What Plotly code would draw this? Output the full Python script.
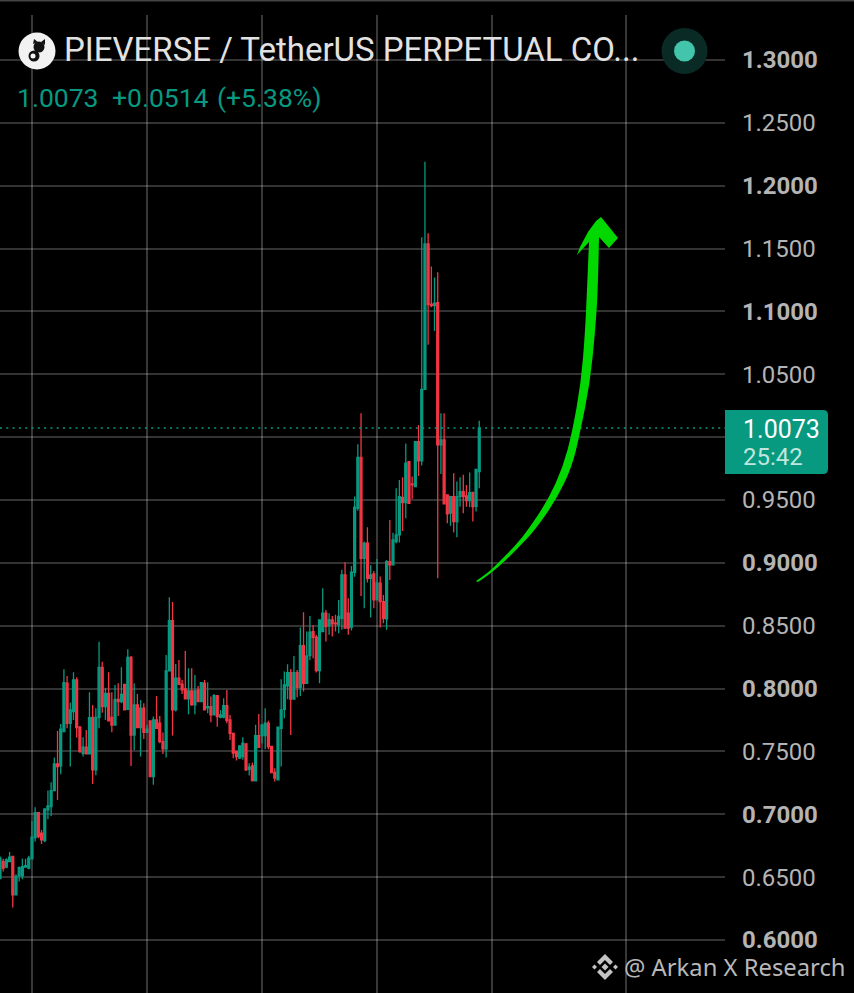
import plotly.graph_objects as go

# PIEVERSE / USDT perp (candle index = hours)
opens = [.649, .6623, .6579, .6624, .6664, .6359, .651, .651, .6579, .6571, .6645, .6815, .7013, .6849, .6791, .7035, .7061, .7188, .74, .7384,
         .7657, .8042, .7724, .7816, .8068, .7692, .7485, .7533, .748, .7771, .7353, .7771, .8169, .7856, .7962, .7771, .771, .7914, .7896, .8033,
         .7835, .8248, .763, .7869, .7689, .7843, .7652, .7743, .73, .775, .7724, .7578, .752, .814, .854, .783, .8082, .8034, .7997, .7917,
         .7981, .787, .7989, .7896, .8042, .7846, .7856, .779, .7944, .7772, .7772, .7864, .775, .7644, .7499, .7446, .7459, .756, .7358, .7385,
         .7266, .7626, .7626, .7626, .7724, .7539, .7332, .7273, .7684, .7835, .8021, .8127, .7915, .8127, .801, .8341, .8042, .8262, .8453, .8408,
         .8143, .8453, .8599, .8499, .8546, .852, .8506, .8559, .8904, .8599, .8488, .8925, .9434, .9839, .9036, .9156, .8877, .8912, .8705, .8838,
         .8692, .8554, .901, .8983, .9169, .9222, .9521, .9479, .9805, .9628, .9606, .9964, .9811, 1.038, 1.1537, 1.1057, 1.1046, 1.107, .9938, .9977,
         .954, .9395, .9527, .9328, .9527, .9567, .9532, .9495, .9561, .945, .9726]
highs = [.6665, .6645, .665, .67, .6669, .6523, .6584, .6645, .6645, .6669, .6947, .7056, .7018, .6875, .7048, .7188, .7254, .7451, .7663, .7718,
         .8153, .81, .7888, .8129, .8089, .7702, .7612, .767, .797, .7869, .7843, .8373, .8214, .8007, .8129, .797, .8028, .8042, .8169, .8033,
         .8312, .8259, .8042, .7957, .7909, .7882, .771, .7743, .7777, .7941, .7782, .765, .8267, .8726, .8689, .8196, .8227, .8068, .8299, .8161,
         .8161, .8108, .802, .8047, .8068, .805, .7936, .7957, .7949, .783, .7923, .7989, .779, .765, .7507, .7544, .7613, .7565, .7406, .7411,
         .7711, .7798, .7711, .7843, .7743, .7539, .7366, .7692, .8074, .8135, .8193, .8156, .8259, .8148, .8485, .8606, .8453, .8578, .8506, .8427,
         .8546, .8798, .8625, .8599, .8578, .8586, .8705, .8944, .9004, .8718, .8975, .9527, .9943, 1.0189, .9169, .9283, .8983, .8936, .9031, .8891,
         .8745, .9023, .9341, .924, .9593, .9659, .968, .995, .9811, .9686, .9964, 1.0097, 1.159, 1.2191, 1.1622, 1.1357, 1.1269, 1.1311, 1.0189, 1.0189,
         .954, .9527, .9713, .9646, .9681, .97, .962, .9718, .9561, .9744, 1.0131]
lows = [.648, .6544, .657, .6621, .6258, .6354, .6465, .6483, .6579, .6563, .6645, .6783, .6809, .6764, .6778, .696, .6987, .7188, .7114, .7318,
        .7657, .7684, .7379, .775, .761, .749, .7459, .748, .748, .724, .731, .7684, .7808, .775, .7742, .7652, .771, .7782, .7882, .783,
        .783, .7384, .7512, .7684, .7459, .7599, .7652, .73, .7234, .7684, .7565, .748, .7451, .814, .7626, .7817, .8034, .7957, .7917, .7796,
        .7864, .7796, .7891, .7891, .7825, .7804, .7732, .779, .7697, .7764, .7764, .7724, .7591, .7446, .7427, .744, .7433, .7345, .7308, .726,
        .726, .7533, .7565, .7517, .7517, .7332, .726, .7268, .7379, .7764, .7915, .763, .7915, .7931, .7941, .7976, .8042, .8228, .8241, .8127,
        .8042, .8453, .8374, .8427, .8414, .8453, .844, .8467, .848, .8427, .8461, .889, .9415, .8737, .8639, .8843, .8565, .8639, .8705, .8485,
        .852, .8467, .8864, .8978, .9155, .9161, .9254, .9354, .9474, .9508, .9606, .9691, .9774, 1.038, 1.0734, 1.1033, 1.0845, .8878, .9707, .9469,
        .9315, .9294, .9241, .9204, .9447, .9394, .9447, .9442, .9328, .9408, .9593]
closes = [.665, .6571, .6637, .6658, .6359, .6505, .6576, .6584, .6592, .665, .6817, .7013, .6822, .6796, .7042, .7066, .7188, .74, .7379, .7676,
          .8047, .7724, .783, .8068, .7689, .7498, .7533, .748, .7769, .7353, .7771, .8169, .7856, .7962, .7742, .771, .7914, .7896, .7954, .783,
          .8248, .763, .7869, .7689, .7843, .7652, .7676, .73, .775, .7684, .7578, .752, .814, .854, .783, .8082, .8034, .799, .7917, .7981,
          .787, .7981, .7896, .8047, .783, .7856, .779, .7944, .7777, .779, .7864, .7745, .7644, .7486, .7459, .7544, .7565, .7353, .7374, .7268,
          .7626, .7533, .7711, .7724, .7539, .7332, .7287, .7692, .783, .8029, .8127, .7915, .8127, .801, .8341, .8042, .8259, .8448, .8408, .8143,
          .8546, .8599, .8493, .8546, .8514, .8514, .8573, .8904, .848, .848, .8925, .9442, .9839, .9036, .9156, .8877, .8904, .8705, .8838, .8692,
          .8559, .901, .8983, .9182, .9222, .9527, .9479, .9792, .9474, .962, .9964, .9811, 1.038, 1.1537, 1.1054, 1.1046, 1.1065, .9938, .9977, .9469,
          .9389, .9527, .9328, .9527, .9567, .9527, .9495, .9559, .9447, .9744, 1.0073]
candle_idx = list(range(len(opens)))

price_ticks = [1.3, 1.25, 1.2, 1.15, 1.1, 1.05, 1.0, .95, .9, .85, .8, .75, .7, .65, .6]
price_labels = ['<b>1.3000</b>', '1.2500', '<b>1.2000</b>', '1.1500', '<b>1.1000</b>', '1.0500', '', '0.9500',
                '<b>0.9000</b>', '0.8500', '<b>0.8000</b>', '0.7500', '<b>0.7000</b>', '0.6500', '<b>0.6000</b>']
time_grid = [10, 46, 82, 118, 154, 196]

GREEN = '#089981'
RED = '#f23645'
W, H = 854, 993
RIGHT, TOP = 725, 15


# screen pixels to paper coordinates, for the overlay stuff
def px(x):
    return x / RIGHT


def py(y):
    return (H - y) / (H - TOP)


def pt(p):
    return f'{px(p[0]):.5f},{py(p[1]):.5f}'


def poly(points):
    return 'M ' + ' L '.join(pt(p) for p in points) + ' Z'


# quadratic through midpoints so the arrow edges don't look faceted
def smooth(points):
    out = f'L {pt(points[0])}'
    for a, b in zip(points[1:-1], points[2:]):
        out += f' Q {pt(a)} {pt(((a[0] + b[0]) / 2, (a[1] + b[1]) / 2))}'
    return out + f' L {pt(points[-1])}'


def circle(cx, cy, r, color):
    return dict(type='circle', xref='paper', yref='paper', x0=px(cx - r), x1=px(cx + r), y0=py(cy + r), y1=py(cy - r),
                fillcolor=color, line_width=0, layer='above')


def filled(points, color):
    return dict(type='path', xref='paper', yref='paper', path=poly(points), fillcolor=color, line_width=0, layer='above')


arrow_left = [(476, 581), (488, 573), (500, 561), (515, 546), (528, 530), (548, 500), (563, 467), (572, 433), (581, 383), (585, 333),
              (587, 290), (589, 242)]
arrow_head = [(577, 255), (580, 247), (588, 232), (596, 221), (601, 217), (618, 238), (609, 248), (599, 237)]
arrow_right = [(599, 237), (598, 290), (595, 333), (590, 383), (580, 433), (572, 467), (556, 500), (535, 530), (520, 546), (505, 561),
               (490, 574), (478, 582)]
arrow_path = 'M ' + pt(arrow_left[0]) + ' ' + smooth(arrow_left) + ' ' + ' '.join('L ' + pt(p) for p in arrow_head) + ' ' + smooth(arrow_right) + ' Z'

bx, by = 605, 967
logo_color = '#c4c4c4'
shapes = [
    dict(type='line', xref='paper', yref='paper', x0=0, x1=W / RIGHT, y0=py(0.5), y1=py(0.5), line=dict(color='#444444', width=2)),
    dict(type='line', xref='paper', yref='y', x0=0, x1=1, y0=closes[-1], y1=closes[-1], line=dict(color=GREEN, width=1.5, dash='2px,4.3px')),
    circle(684.5, 51, 23, '#0a2a25'),
    circle(684.5, 51, 10.5, '#42c5aa'),
    circle(37, 51, 18.5, '#f2f2f2'),
    # squirrel-ish head, ears and curled tail of the coin logo
    circle(39, 47, 5.5, '#111111'),
    filled([(33, 44), (34, 39), (38, 42)], '#111111'),
    filled([(41, 42), (45, 39), (45, 45)], '#111111'),
    circle(34, 56, 5.5, '#111111'),
    circle(33, 56, 2.5, '#f2f2f2'),
    dict(type='path', xref='paper', yref='paper', path=arrow_path, fillcolor='#00d800', line_width=0, layer='above'),
    dict(type='path', xref='paper', yref='paper', fillcolor=GREEN, line_width=0, layer='above',
         path=f'M {px(725):.5f},{py(410):.5f} L {px(823):.5f},{py(410):.5f} Q {px(828):.5f},{py(410):.5f} {px(828):.5f},{py(415):.5f} '
              f'L {px(828):.5f},{py(469):.5f} Q {px(828):.5f},{py(474):.5f} {px(823):.5f},{py(474):.5f} L {px(725):.5f},{py(474):.5f} Z'),
    # binance mark next to the watermark
    filled([(bx, by - 13), (bx + 8, by - 5), (bx + 5, by - 2), (bx, by - 7), (bx - 5, by - 2), (bx - 8, by - 5)], logo_color),
    filled([(bx, by + 13), (bx + 8, by + 5), (bx + 5, by + 2), (bx, by + 7), (bx - 5, by + 2), (bx - 8, by + 5)], logo_color),
    filled([(bx, by - 3.5), (bx + 3.5, by), (bx, by + 3.5), (bx - 3.5, by)], logo_color),
    filled([(bx - 10.5, by - 2.5), (bx - 8, by), (bx - 10.5, by + 2.5), (bx - 13, by)], logo_color),
    filled([(bx + 10.5, by - 2.5), (bx + 13, by), (bx + 10.5, by + 2.5), (bx + 8, by)], logo_color),
]


def label(x, y, text, size, color, family='Roboto'):
    return dict(x=px(x), y=py(y), xref='paper', yref='paper', text=text, showarrow=False, xanchor='left', yanchor='middle',
                align='left', font=dict(family=family, size=size, color=color))


annotations = [
    label(62, 50, 'PIEVERSE / TetherUS PERPETUAL CO...', 33, '#e2e2e2'),
    label(15, 97, '1.0073', 26.5, GREEN),
    label(110, 97, '+0.0514', 26.5, GREEN),
    label(215, 97, '(+5.38%)', 26.5, GREEN),
    label(741, 429, '1.0073', 25, '#ffffff'),
    label(741, 457, '25:42', 24, '#bfe6dc'),
    label(622, 967, '@ Arkan X Research', 23.8, '#b8b8b8', 'Noto Sans'),
]

candles = go.Candlestick(x=candle_idx, open=opens, high=highs, low=lows, close=closes,
                         increasing=dict(line=dict(color=GREEN, width=1.3), fillcolor=GREEN),
                         decreasing=dict(line=dict(color=RED, width=1.3), fillcolor=RED))

fig = go.Figure(data=candles)
fig.update_layout(width=W, height=H, margin=dict(l=0, r=W - RIGHT, t=TOP, b=0), paper_bgcolor='black', plot_bgcolor='black',
                  showlegend=False, shapes=shapes, annotations=annotations, xaxis_rangeslider_visible=False, boxgap=0.15)
fig.update_xaxes(range=[0, RIGHT / 3.195], tickvals=time_grid, showticklabels=False, ticks='', zeroline=False,
                 showgrid=True, gridcolor='rgba(255,255,255,0.22)', gridwidth=1.5)
fig.update_yaxes(side='right', range=[.5578, 1.3358], tickvals=price_ticks, ticktext=price_labels, ticks='', zeroline=False,
                 showgrid=True, gridcolor='rgba(255,255,255,0.2)', gridwidth=1.5, ticklabelstandoff=16,
                 tickfont=dict(family='Roboto', size=24, color='#b4b4b4'))

fig.write_html('out.html', config={'displayModeBar': False}, post_script="document.body.style.margin='0';")
